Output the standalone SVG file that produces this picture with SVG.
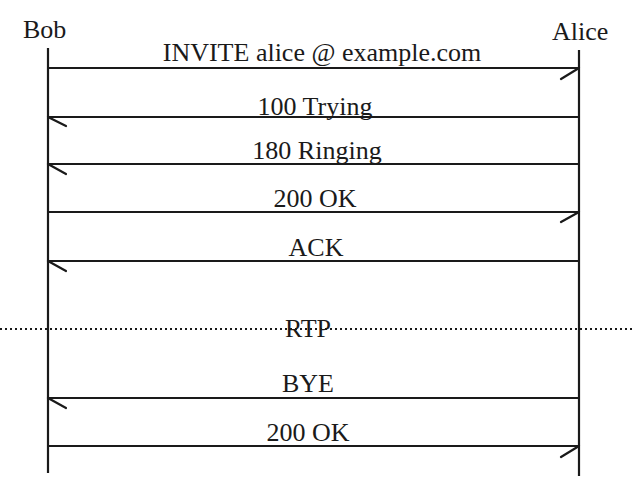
<svg xmlns="http://www.w3.org/2000/svg" width="635" height="481" viewBox="0 0 635 481">
<style>
text{font-family:"Liberation Serif","Times New Roman",serif;font-size:26px;fill:#1a1a1a}
.lbl{text-anchor:middle}
.life{stroke:#1a1a1a;stroke-width:2.2;fill:none}
.msg{stroke:#1a1a1a;stroke-width:2.2;fill:none;stroke-linecap:round}
.dot{stroke:#1a1a1a;stroke-width:2;fill:none;stroke-dasharray:2 3}
</style>
<rect width="635" height="481" fill="#ffffff"/>
<g id="node-bob">
<text x="23" y="38" font-size="25">Bob</text>
<line class="life" x1="48" y1="48" x2="48" y2="473"/>
</g>
<g id="node-alice">
<text x="552" y="40">Alice</text>
<line class="life" x1="579" y1="50" x2="579" y2="476"/>
</g>
<g id="connectors">
<path class="msg" d="M48,68 H579 M579,68 L561,79"/>
<text class="lbl" x="322" y="61">INVITE alice @ example.com</text>
<path class="msg" d="M579,117 H48 M48,117 L66,126"/>
<text class="lbl" x="315" y="115">100 Trying</text>
<path class="msg" d="M579,164 H48 M48,164 L66,174"/>
<text class="lbl" x="317" y="159">180 Ringing</text>
<path class="msg" d="M48,212 H579 M579,212 L561,222"/>
<text class="lbl" x="315" y="207">200 OK</text>
<path class="msg" d="M579,261 H48 M48,261 L66,271"/>
<text class="lbl" x="316" y="256">ACK</text>
<line class="dot" x1="0" y1="329" x2="635" y2="329"/>
<text class="lbl" x="308" y="337">RTP</text>
<path class="msg" d="M579,398 H48 M48,398 L66,408"/>
<text class="lbl" x="308" y="392">BYE</text>
<path class="msg" d="M48,446 H579 M579,446 L561,457"/>
<text class="lbl" x="308" y="441">200 OK</text>
</g>
</svg>
